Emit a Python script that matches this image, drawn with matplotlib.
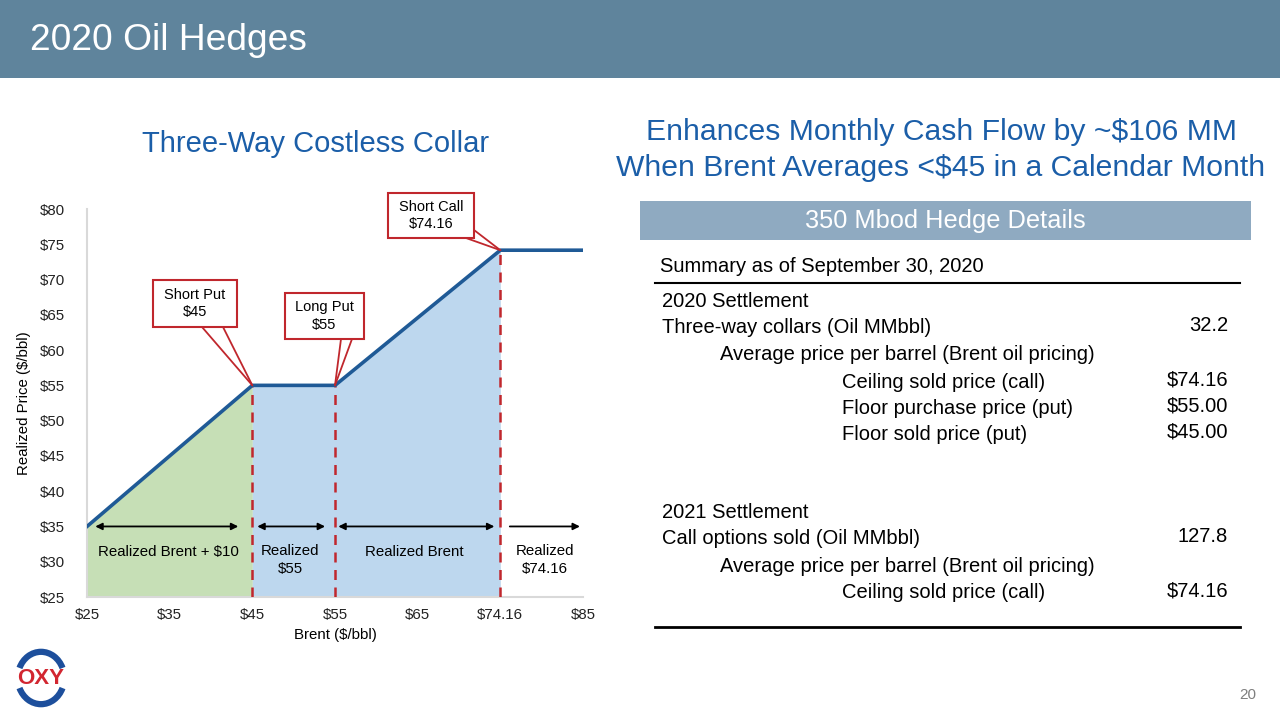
import numpy as np
import matplotlib
matplotlib.use("Agg")
import matplotlib.pyplot as plt
from matplotlib.patches import Rectangle, Arc

# payoff profile of the three-way collar
brent = [25, 45, 55, 74.16, 85]
realized = [35, 55, 55, 74.16, 74.16]
short_put = 45
long_put = 55
short_call = 74.16

x_ticks = [25, 35, 45, 55, 65, 74.16, 85]
x_labels = ["$25", "$35", "$45", "$55", "$65", "$74.16", "$85"]
y_ticks = [25, 30, 35, 40, 45, 50, 55, 60, 65, 70, 75, 80]

# region arrows (start, end, both-ended) and their labels
region_spans = [(26.0, 43.3, True), (45.6, 53.8, True), (55.4, 73.5, True), (75.4, 84.6, False)]
region_labels = ["Realized Brent + $10", "Realized\n$55", "Realized Brent", "Realized\n$74.16"]
region_label_x = [34.8, 49.6, 64.6, 80.0]
region_label_y = [31.4, 30.2, 31.4, 30.2]

# hedge details table
table_rows = [
    ("2020 Settlement", 0, ""),
    ("Three-way collars (Oil MMbbl)", 0, "32.2"),
    ("Average price per barrel (Brent oil pricing)", 1, ""),
    ("Ceiling sold price (call)", 2, "$74.16"),
    ("Floor purchase price (put)", 2, "$55.00"),
    ("Floor sold price (put)", 2, "$45.00"),
    ("2021 Settlement", 0, ""),
    ("Call options sold (Oil MMbbl)", 0, "127.8"),
    ("Average price per barrel (Brent oil pricing)", 1, ""),
    ("Ceiling sold price (call)", 2, "$74.16"),
]
table_y = [301, 328, 354, 382, 408, 434, 513, 539, 566, 593]

BLUE = "#1f5a96"
TITLE_BLUE = "#1b5ea8"
RED = "#c0272d"
GREEN_FILL = "#c6dfb6"
BLUE_FILL = "#bdd7ee"
HEADER = "#5f849c"
FONT = ["Liberation Sans", "DejaVu Sans"]

plt.rcParams["font.family"] = FONT

W, H = 1280, 720
fig = plt.figure(figsize=(12.8, 7.2), dpi=100)


def fp(x, y):
    # top-left pixel -> figure fraction
    return x / W, 1 - y / H


# header bar
fig.patches.append(Rectangle((0, 1 - 78 / H), 1, 78 / H, transform=fig.transFigure,
                             facecolor=HEADER, edgecolor="none", zorder=0))
fig.text(*fp(30, 40), "2020 Oil Hedges", color="white", fontsize=26.7, va="center", ha="left")

# ---- chart ----
ax = fig.add_axes([87 / W, 1 - 597 / H, (583 - 87) / W, (597 - 209) / H])
idx = np.arange(len(x_ticks))
ax.set_xscale("function", functions=(lambda v: np.interp(v, x_ticks, idx),
                                     lambda p: np.interp(p, idx, x_ticks)))
ax.set_xlim(25, 85)
ax.set_ylim(25, 80)

bx = np.array(brent)
ry = np.array(realized)
ax.fill_between(bx[:2], ry[:2], 25, color=GREEN_FILL, lw=0, zorder=1)
mask = (bx >= short_put) & (bx <= short_call)
ax.fill_between(bx[mask], ry[mask], 25, color=BLUE_FILL, lw=0, zorder=1)
ax.plot(brent, realized, color=BLUE, lw=2.6, zorder=4, solid_joinstyle="miter")

for s in [short_put, long_put, short_call]:
    top = np.interp(s, brent, realized)
    ax.vlines(s, 25, top, colors=RED, linestyles=(0, (4, 3)), lw=1.8, zorder=3)

ax.set_xticks(x_ticks)
ax.set_xticklabels(x_labels)
ax.set_yticks(y_ticks)
ax.set_yticklabels(["$%d" % v for v in y_ticks])
ax.tick_params(length=0, labelsize=10.8, colors="#222222")
ax.tick_params(axis="x", pad=8)
ax.tick_params(axis="y", pad=16)
for sp in ["top", "right"]:
    ax.spines[sp].set_visible(False)
for sp in ["left", "bottom"]:
    ax.spines[sp].set_color("#d9d9d9")
    ax.spines[sp].set_linewidth(1.5)
ax.set_xlabel("Brent ($/bbl)", fontsize=10.8, labelpad=4)
ax.set_ylabel("Realized Price ($/bbl)", fontsize=10.8, labelpad=6)

for (a, b, both), lab, lx, ly in zip(region_spans, region_labels, region_label_x, region_label_y):
    style = "<|-|>" if both else "-|>"
    ax.annotate("", xy=(b, 35), xytext=(a, 35),
                arrowprops=dict(arrowstyle=style, color="black", lw=1.3,
                                mutation_scale=10, shrinkA=0, shrinkB=0), zorder=5)
    ax.text(lx, ly, lab, ha="center", va="center", fontsize=10.8, linespacing=1.35, zorder=5)

# callout boxes: (text, box left, top, right, bottom, target, leader start points)
callouts = [
    ("Short Put\n$45", 153, 280, 237, 327, (short_put, 55), [(202, 327), (223, 327)]),
    ("Long Put\n$55", 285, 293, 364, 339, (long_put, 55), [(341, 339), (352, 339)]),
    ("Short Call\n$74.16", 388, 193, 474, 238, (short_call, short_call), [(474, 230), (466, 238)]),
]
for txt, l, t, r, b, target, starts in callouts:
    x0, y0 = fp(l, b)
    fig.patches.append(Rectangle((x0, y0), (r - l) / W, (b - t) / H, transform=fig.transFigure,
                                 facecolor="white", edgecolor=RED, lw=1.5, zorder=5))
    fig.text(*fp((l + r) / 2, (t + b) / 2), txt, ha="center", va="center", fontsize=10.5,
             linespacing=1.3, zorder=6)
    for sx, sy in starts:
        ax.annotate("", xy=target, xycoords="data", xytext=fp(sx, sy),
                    textcoords="figure fraction",
                    arrowprops=dict(arrowstyle="-", color=RED, lw=1.3, shrinkA=0, shrinkB=0),
                    zorder=5)

fig.text(*fp(316, 144), "Three-Way Costless Collar", color=TITLE_BLUE, fontsize=21,
         ha="center", va="center")

# ---- right panel ----
fig.text(*fp(941, 132), "Enhances Monthly Cash Flow by ~$106 MM", color=TITLE_BLUE,
         fontsize=21.7, ha="center", va="center")
fig.text(*fp(941, 168), "When Brent Averages <$45 in a Calendar Month", color=TITLE_BLUE,
         fontsize=21.7, ha="center", va="center")

x0, y0 = fp(640, 240)
fig.patches.append(Rectangle((x0, y0), (1251 - 640) / W, 39 / H, transform=fig.transFigure,
                             facecolor="#8faac1", edgecolor="none"))
fig.text(*fp(945, 221), "350 Mbod Hedge Details", color="white", fontsize=18.3,
         ha="center", va="center")

fig.text(*fp(660, 267), "Summary as of September 30, 2020", fontsize=14.5,
         ha="left", va="center")
fig.add_artist(plt.Line2D([655 / W, 1240 / W], [1 - 283 / H] * 2, color="black", lw=1.5))
indents = [662, 720, 842]
for (label, lvl, val), y in zip(table_rows, table_y):
    fig.text(*fp(indents[lvl], y), label, fontsize=14.5, ha="left", va="center")
    if val:
        fig.text(*fp(1228, y - 2), val, fontsize=14.5, ha="right", va="center")
fig.add_artist(plt.Line2D([655 / W, 1240 / W], [1 - 627 / H] * 2, color="black", lw=2))

fig.text(*fp(1256, 695), "20", color="#7f7f7f", fontsize=11, ha="right", va="center")

# logo
lax = fig.add_axes([8 / W, 1 - 710 / H, 66 / W, 64 / H])
lax.set_xlim(-1.1, 1.1)
lax.set_ylim(-1.1, 1.1)
lax.set_aspect("equal")
lax.axis("off")
lax.add_patch(Arc((0, 0), 1.6, 1.8, theta1=25, theta2=155, color="#1d4f9c", lw=4.5))
lax.add_patch(Arc((0, 0), 1.6, 1.8, theta1=205, theta2=335, color="#1d4f9c", lw=4.5))
lax.text(0, 0, "OXY", color="#d22630", fontsize=16, fontweight="bold", ha="center", va="center")

fig.savefig("out.png", dpi=100)
